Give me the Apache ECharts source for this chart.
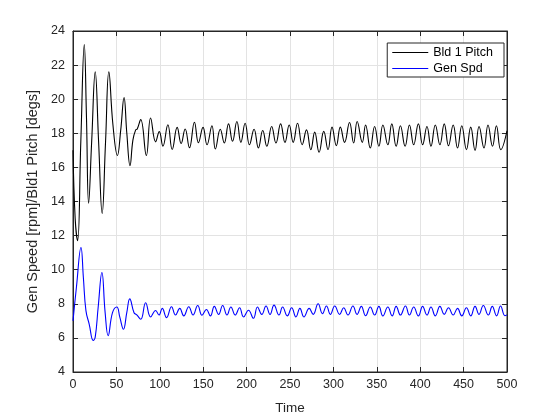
<!DOCTYPE html>
<html>
<head>
<meta charset="utf-8">
<script src="https://cdn.jsdelivr.net/npm/echarts@6/dist/echarts.min.js"></script>
<style>
html,body{margin:0;padding:0;background:#fff;}
#c{width:560px;height:420px;}
</style>
</head>
<body>
<div id="c"></div>
<script>
// Bld 1 Pitch: time of turning points and values
const pitchTime = [0, 2.5, 5.3, 9, 13, 15.5, 18, 21.5, 25.6, 29.5, 33.6, 37.5, 41.3, 46, 51.2, 55, 58.8, 62, 65.7, 69, 72.2, 74, 78, 84.5, 89.4, 95.2, 99.4, 103.6, 109.3, 114.3, 120, 124.6, 129.2, 134.2, 139.9, 144.5, 149.8, 154.4, 160.1, 164.0, 169.7, 174.3, 179.2, 183.8, 188.8, 193.4, 198.3, 203.3, 208.6, 213.6, 218.6, 223.3, 228.9, 233.8, 239.2, 244.2, 249.1, 253.7, 258.7, 264.0, 269.0, 274.0, 278.5, 283.5, 288.9, 293.8, 298.4, 303.4, 308.0, 312.9, 318.6, 323.3, 327.4, 333.3, 337.1, 342.5, 347.5, 352.4, 357.0, 362.7, 367.3, 372.3, 377.2, 382.6, 387.6, 392.5, 397.9, 402.8, 407.8, 412.4, 417.4, 422.7, 427.7, 432.6, 438.0, 443.0, 447.9, 453.3, 458.2, 463.2, 467.8, 473.5, 478.1, 483.3, 487.8, 492.8, 500];
const pitchDeg  = [17.0, 13.0, 11.7, 17.5, 23.2, 19.0, 13.9, 17.5, 21.6, 17.5, 13.3, 17.5, 21.6, 18.5, 16.7, 18.2, 20.1, 18.0, 16.1, 17.6, 18.2, 18.25, 18.8, 16.7, 18.9, 17.5, 18.1, 17.25, 18.5, 17.05, 18.35, 17.4, 18.25, 17.15, 18.65, 17.45, 18.35, 17.33, 18.44, 17.08, 18.24, 17.43, 18.55, 17.53, 18.69, 17.47, 18.59, 17.33, 18.24, 17.14, 18.16, 17.24, 18.40, 17.43, 18.55, 17.47, 18.49, 17.47, 18.59, 17.33, 18.20, 17.04, 18.07, 16.89, 18.11, 17.04, 18.36, 17.28, 18.36, 17.47, 18.63, 17.43, 18.69, 17.47, 18.49, 17.14, 18.40, 17.24, 18.49, 17.33, 18.55, 17.24, 18.44, 17.24, 18.49, 17.33, 18.55, 17.33, 18.40, 17.24, 18.49, 17.33, 18.55, 17.27, 18.49, 17.14, 18.44, 17.04, 18.36, 17.00, 18.40, 17.14, 18.49, 17.24, 18.44, 17.04, 18.15];

// Gen Spd: time of turning points and values
const speedTime = [0, 4, 9.2, 12, 14.9, 18.7, 23.3, 25.6, 29, 33.3, 37, 40.5, 45.5, 50.5, 54, 58.1, 62, 65.4, 70.3, 73.5, 78, 83.7, 89.4, 95.2, 99, 102.8, 107.8, 113.5, 118.1, 123, 127.6, 133.4, 138.3, 143.7, 148.6, 153.7, 158.3, 162.8, 167.8, 172.4, 177.4, 181.9, 186.9, 191.9, 196.5, 202.2, 207.9, 212.5, 217.5, 222.4, 227.0, 231.6, 237.3, 241.5, 246.9, 251.9, 256.8, 261.4, 266.0, 272.1, 276.7, 282.4, 287.4, 292.0, 296.5, 301.5, 307.2, 311.8, 316.8, 322.5, 327.2, 332.2, 337.1, 342.5, 347.5, 352.4, 357.0, 362.7, 367.7, 372.3, 377.2, 383.0, 387.6, 392.5, 397.9, 402.8, 407.8, 412.4, 417.4, 422.7, 427.7, 432.6, 438.0, 443.0, 447.9, 453.3, 458.2, 463.2, 467.8, 472.7, 478.5, 483.0, 488.0, 492.6, 497.6, 500];
const speedRpm  = [7.0, 9.0, 11.3, 9.5, 7.6, 6.8, 5.85, 6.05, 7.8, 9.84, 7.5, 6.13, 7.48, 7.81, 7.2, 6.51, 7.5, 8.29, 7.48, 7.35, 7.09, 8.06, 7.23, 7.61, 7.34, 7.73, 7.19, 7.83, 7.34, 7.73, 7.29, 7.83, 7.34, 7.90, 7.33, 7.67, 7.29, 7.85, 7.38, 7.90, 7.34, 7.81, 7.34, 7.77, 7.23, 7.62, 7.15, 7.81, 7.38, 7.87, 7.38, 7.92, 7.34, 7.81, 7.29, 7.77, 7.23, 7.73, 7.23, 7.73, 7.38, 8.00, 7.42, 7.87, 7.38, 7.87, 7.38, 7.77, 7.34, 7.87, 7.38, 7.85, 7.30, 7.81, 7.34, 7.85, 7.29, 7.81, 7.29, 7.85, 7.34, 7.87, 7.34, 7.81, 7.29, 7.85, 7.34, 7.81, 7.29, 7.85, 7.38, 7.77, 7.34, 7.73, 7.29, 7.77, 7.29, 7.85, 7.38, 7.90, 7.34, 7.85, 7.29, 7.87, 7.30, 7.35];

const seriesNames = ['Bld 1 Pitch', 'Gen Spd'];
const seriesColors = ['#000000', '#0000ff'];
const xTitle = 'Time';
const yTitle = 'Gen Speed [rpm]/Bld1 Pitch [degs]';

const pitchData = pitchTime.map((t, i) => [t, pitchDeg[i]]);
const speedData = speedTime.map((t, i) => [t, speedRpm[i]]);

const axisColor = '#262626';
const font = 'Liberation Sans, Arial, sans-serif';
const gridColor = '#e3e3e3';

const chart = echarts.init(document.getElementById('c'), null, {renderer: 'canvas'});
chart.setOption({
  animation: false,
  backgroundColor: '#ffffff',
  grid: {left: 73, right: 53, top: 31, bottom: 47, show: true, borderColor: axisColor, borderWidth: 1, backgroundColor: 'transparent'},
  legend: {
    orient: 'vertical', right: 56, top: 43, align: 'left',
    backgroundColor: '#ffffff', borderColor: axisColor, borderWidth: 1,
    padding: [3, 11, 2, 5], itemGap: 3,
    itemWidth: 36, itemHeight: 1, icon: 'rect',
    itemStyle: {borderWidth: 0},
    textStyle: {fontFamily: font, fontSize: 12.5, color: '#000'},
    data: seriesNames.map((n, i) => ({name: n, itemStyle: {color: seriesColors[i], borderWidth: 0}}))
  },
  xAxis: [{
    type: 'value', min: 0, max: 500, interval: 50,
    name: xTitle, nameLocation: 'middle', nameGap: 29,
    nameTextStyle: {fontFamily: font, fontSize: 13.5, color: axisColor},
    axisLine: {show: true, onZero: false, lineStyle: {color: axisColor, width: 1}},
    axisTick: {show: true, inside: true, length: 5, lineStyle: {color: axisColor}},
    axisLabel: {fontFamily: font, fontSize: 12.5, color: axisColor, margin: 6},
    splitLine: {show: true, lineStyle: {color: gridColor, width: 1}}
  }, {
    type: 'value', min: 0, max: 500, interval: 50, position: 'top',
    axisLine: {show: true, onZero: false, lineStyle: {color: axisColor, width: 1}},
    axisTick: {show: true, inside: true, length: 5, lineStyle: {color: axisColor}},
    axisLabel: {show: false}, splitLine: {show: false}
  }],
  yAxis: [{
    type: 'value', min: 4, max: 24, interval: 2,
    name: yTitle, nameLocation: 'middle', nameGap: 26, nameRotate: 90,
    nameTextStyle: {fontFamily: font, fontSize: 14.5, color: axisColor},
    axisLine: {show: true, onZero: false, lineStyle: {color: axisColor, width: 1}},
    axisTick: {show: true, inside: true, length: 5, lineStyle: {color: axisColor}},
    axisLabel: {fontFamily: font, fontSize: 12.5, color: axisColor, margin: 8},
    splitLine: {show: true, lineStyle: {color: gridColor, width: 1}}
  }, {
    type: 'value', min: 4, max: 24, interval: 2, position: 'right',
    axisLine: {show: true, onZero: false, lineStyle: {color: axisColor, width: 1}},
    axisTick: {show: true, inside: true, length: 5, lineStyle: {color: axisColor}},
    axisLabel: {show: false}, splitLine: {show: false}
  }],
  series: [{
    name: seriesNames[0], type: 'line', data: pitchData,
    xAxisIndex: 0, yAxisIndex: 0,
    showSymbol: false, symbol: 'none', smooth: 0.45,
    lineStyle: {color: seriesColors[0], width: 1.1}, itemStyle: {color: seriesColors[0]}
  }, {
    name: seriesNames[1], type: 'line', data: speedData,
    xAxisIndex: 0, yAxisIndex: 0,
    showSymbol: false, symbol: 'none', smooth: 0.45,
    lineStyle: {color: seriesColors[1], width: 1.1}, itemStyle: {color: seriesColors[1]}
  }]
});
</script>
</body>
</html>
